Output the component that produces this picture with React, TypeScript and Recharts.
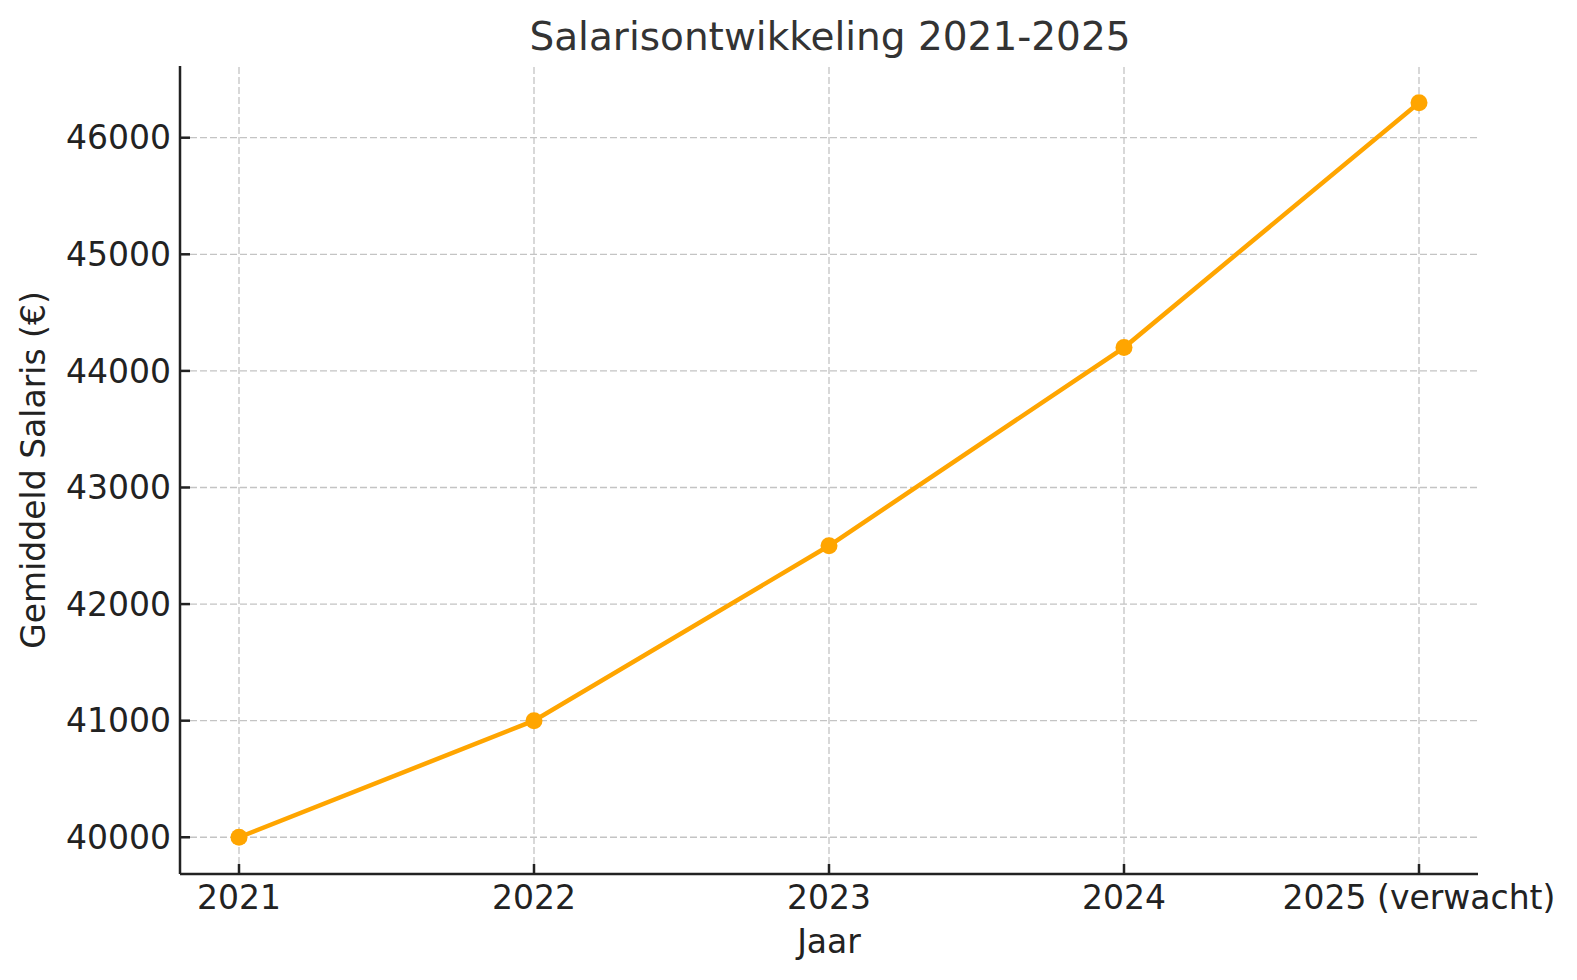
import { Label, Line, LineChart, ReferenceLine, XAxis, YAxis } from "recharts";

const YEARS = ["2021", "2022", "2023", "2024", "2025 (verwacht)"];
const SALARIS = [40000, 41000, 42500, 44200, 46300];
const Y_TICKS = [40000, 41000, 42000, 43000, 44000, 45000, 46000];
const X_TICKS = [0, 1, 2, 3, 4];

const FONT = "'DejaVu Sans', sans-serif";
const INK = "#222222";
const ORANGE = "#FFA500";
const GRID = "#c4c4c4";

const data = YEARS.map((jaar, i) => ({ idx: i, jaar, salaris: SALARIS[i] }));

// matplotlib style: ticks point inward, label outside
function YTick({ x, y, payload }: { x?: number; y?: number; payload?: { value: number } }) {
  const px = x ?? 0;
  const py = y ?? 0;
  return (
    <g>
      <line x1={px} y1={py} x2={px + 10} y2={py} stroke={INK} strokeWidth={2.5} />
      <text x={px - 9} y={py} dy="0.355em" textAnchor="end" fontSize={33} fontFamily={FONT} fill={INK}>
        {payload?.value}
      </text>
    </g>
  );
}

function XTick({ x, y, payload }: { x?: number; y?: number; payload?: { value: number } }) {
  const px = x ?? 0;
  const py = y ?? 0;
  return (
    <g>
      <line x1={px} y1={py} x2={px} y2={py - 10} stroke={INK} strokeWidth={2.5} />
      <text x={px} y={py + 35} textAnchor="middle" fontSize={33} fontFamily={FONT} fill={INK}>
        {YEARS[payload?.value ?? 0]}
      </text>
    </g>
  );
}

export default function App() {
  return (
    <div style={{ position: "absolute", left: 0, top: 0, width: 1577, height: 980, background: "#fff" }}>
      <LineChart width={1577} height={980} data={data} margin={{ top: 66, right: 99, bottom: 46, left: 80 }}>
        {Y_TICKS.map((v) => (
          <ReferenceLine key={`h${v}`} y={v} stroke={GRID} strokeWidth={1.3} strokeDasharray="7 3" />
        ))}
        {X_TICKS.map((v) => (
          <ReferenceLine key={`v${v}`} x={v} stroke={GRID} strokeWidth={1.3} strokeDasharray="7 3" />
        ))}
        <XAxis
          dataKey="idx"
          type="number"
          domain={[-0.2, 4.2]}
          ticks={X_TICKS}
          interval={0}
          height={60}
          tickSize={0}
          tickMargin={0}
          tickLine={false}
          axisLine={{ stroke: INK, strokeWidth: 2.5 }}
          tick={<XTick />}
        >
          <Label
            content={({ viewBox }: any) => (
              <text
                x={viewBox.x + viewBox.width / 2}
                y={viewBox.y + 79}
                textAnchor="middle"
                fontSize={33}
                fontFamily={FONT}
                fill={INK}
              >
                Jaar
              </text>
            )}
          />
        </XAxis>
        <YAxis
          type="number"
          domain={[39685, 46615]}
          ticks={Y_TICKS}
          interval={0}
          width={100}
          tickSize={0}
          tickMargin={0}
          tickLine={false}
          axisLine={{ stroke: INK, strokeWidth: 2.5 }}
          tick={<YTick />}
        >
          <Label
            content={({ viewBox }: any) => (
              <text
                x={45}
                y={viewBox.y + viewBox.height / 2}
                transform={`rotate(-90 45 ${viewBox.y + viewBox.height / 2})`}
                textAnchor="middle"
                fontSize={33}
                fontFamily={FONT}
                fill={INK}
              >
                Gemiddeld Salaris (€)
              </text>
            )}
          />
        </YAxis>
        <Line
          type="linear"
          dataKey="salaris"
          stroke={ORANGE}
          strokeWidth={4.5}
          dot={{ r: 8.5, fill: ORANGE, stroke: "none" }}
          activeDot={false}
          isAnimationActive={false}
        />
        <text x={830} y={50} textAnchor="middle" fontSize={39} fontFamily={FONT} fill="#333333">
          Salarisontwikkeling 2021-2025
        </text>
      </LineChart>
    </div>
  );
}
